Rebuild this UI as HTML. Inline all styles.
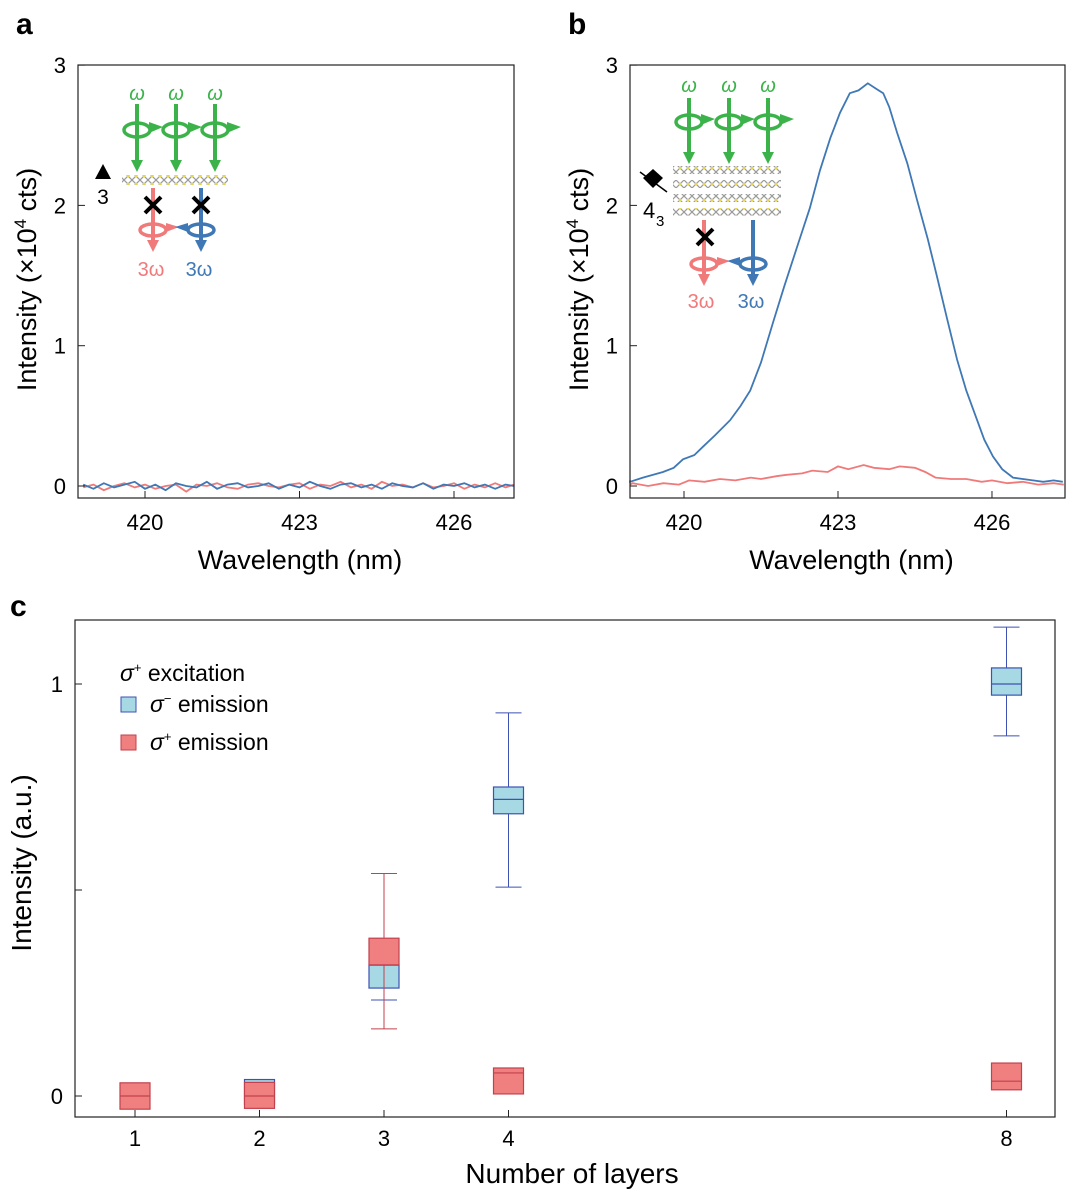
<!DOCTYPE html>
<html><head><meta charset="utf-8"><style>
body{margin:0;background:#fff}
svg{display:block;font-family:"Liberation Sans",sans-serif}
</style></head><body>
<svg id="fig" width="1069" height="1190" viewBox="0 0 1069 1190">
<defs>
<pattern id="lat" width="8" height="8" patternUnits="userSpaceOnUse"><rect width="8" height="8" fill="#fff"/><path d="M0,0L8,8M8,0L0,8" stroke="#9a9a9a" stroke-width="1.2"/><circle cx="0" cy="0" r="1.3" fill="#e3d84a"/><circle cx="8" cy="8" r="1.3" fill="#e3d84a"/><circle cx="0" cy="8" r="1.3" fill="#e3d84a"/><circle cx="8" cy="0" r="1.3" fill="#e3d84a"/></pattern>
</defs>
<g id="pa"></g>
<g id="pb"></g>
<g id="pc"></g>
</svg>
<script>
// ---------- Spectra data ----------
const aBlueX=[418.8,419.0,419.2,419.4,419.6,419.8,420.0,420.2,420.4,420.6,420.8,421.0,421.2,421.4,421.6,421.8,422.0,422.2,422.4,422.6,422.8,423.0,423.2,423.4,423.6,423.8,424.0,424.2,424.4,424.6,424.8,425.0,425.2,425.4,425.6,425.8,426.0,426.2,426.4,426.6,426.8,427.0,427.2];
const aBlueY=[0.01,-0.02,0.02,-0.01,0.01,0.03,-0.02,0.01,-0.03,0.02,0.00,-0.01,0.03,-0.02,0.01,0.02,-0.01,0.00,0.02,-0.02,0.01,-0.01,0.03,0.00,-0.02,0.01,0.02,-0.01,0.01,-0.02,0.02,0.00,-0.01,0.02,-0.02,0.01,0.00,0.02,-0.01,0.01,-0.02,0.01,0.00];
const aRedX=[418.8,419.0,419.2,419.4,419.6,419.8,420.0,420.2,420.4,420.6,420.8,421.0,421.2,421.4,421.6,421.8,422.0,422.2,422.4,422.6,422.8,423.0,423.2,423.4,423.6,423.8,424.0,424.2,424.4,424.6,424.8,425.0,425.2,425.4,425.6,425.8,426.0,426.2,426.4,426.6,426.8,427.0,427.2];
const aRedY=[-0.01,0.01,-0.03,0.00,0.02,-0.01,0.01,-0.02,0.00,0.01,-0.04,0.01,0.00,0.02,-0.01,-0.02,0.01,0.02,0.00,-0.01,0.01,0.02,-0.02,0.01,0.00,0.03,-0.01,0.01,-0.02,0.03,0.00,0.01,-0.01,0.02,-0.01,0.00,0.02,-0.02,0.01,-0.01,0.02,-0.01,0.01];
const bBlueX=[418.7,418.95,419.2,419.4,419.59,419.8,419.98,420.2,420.37,420.6,420.9,421.1,421.29,421.5,421.73,421.95,422.2,422.45,422.65,422.85,423.04,423.23,423.4,423.58,423.75,423.88,424.0,424.15,424.35,424.54,424.75,424.93,425.12,425.32,425.5,425.71,425.85,426.02,426.2,426.41,426.6,426.8,427.0,427.2,427.38];
const bBlueY=[0.04,0.03,0.06,0.08,0.10,0.13,0.19,0.22,0.28,0.36,0.47,0.57,0.68,0.88,1.16,1.42,1.70,1.98,2.25,2.48,2.66,2.80,2.82,2.87,2.83,2.80,2.70,2.52,2.30,2.04,1.76,1.49,1.20,0.90,0.68,0.47,0.33,0.21,0.12,0.06,0.05,0.04,0.03,0.04,0.03];
const bRedX=[418.7,419.0,419.3,419.6,419.9,420.1,420.4,420.7,421.0,421.3,421.5,421.8,422.0,422.3,422.5,422.8,423.0,423.2,423.5,423.7,424.0,424.2,424.5,424.7,424.9,425.2,425.5,425.8,426.0,426.3,426.6,426.9,427.2,427.4];
const bRedY=[0.01,0.02,0.00,0.02,0.01,0.04,0.03,0.05,0.04,0.06,0.05,0.07,0.08,0.09,0.11,0.10,0.14,0.12,0.15,0.13,0.12,0.14,0.13,0.10,0.06,0.05,0.05,0.03,0.04,0.02,0.03,0.01,0.02,0.01];
const specXTicks=[420,423,426];
const specYTicks=[0,1,2,3];
// ---------- Box plot data ----------
const layers=[1,2,3,4,8];
const layerTicks=["1","2","3","4","8"];
const blueQ1=[null,-0.02,0.262,0.685,0.973];
const blueMed=[null,0.0,0.318,0.72,1.0];
const blueQ3=[null,0.04,0.318,0.75,1.039];
const blueLo=[null,null,0.233,0.507,0.874];
const blueHi=[null,null,0.54,0.93,1.138];
const redQ1=[-0.032,-0.03,0.318,0.005,0.015];
const redMed=[0.0,0.0,0.318,0.056,0.036];
const redQ3=[0.032,0.033,0.383,0.068,0.08];
const redLo=[null,null,0.163,null,null];
const redHi=[null,null,0.54,null,null];

const NS="http://www.w3.org/2000/svg";
function mk(parent,tag,attrs,text){const e=document.createElementNS(NS,tag);for(const k in attrs)e.setAttribute(k,attrs[k]);if(text!==undefined)e.textContent=text;parent.appendChild(e);return e;}
const BLUE="#3f78b5",RED="#f07a7a",GREEN="#3bb34a";

function spectrum(g,L,R,x0px,ppnm,xs1,ys1,xs2,ys2,letter){
  const T=65,B=498;
  const X=v=>x0px+(v-420)*ppnm, Y=v=>486-v*140.3;
  const lab=mk(g,'text',{x:L-62,y:34,'font-size':30,'font-weight':'bold'},letter);
  
  
  function line(xs,ys,col,name){
    let d='';xs.forEach((x,i)=>{let xx=Math.max(L,Math.min(R,X(x)));d+=(i?'L':'M')+xx.toFixed(1)+','+Y(ys[i]).toFixed(1);});
    const p=mk(g,'path',{d:d,fill:'none',stroke:col,'stroke-width':1.8});
    
    
  }
  line(xs2,ys2,RED,'sigma-plus-spectrum');
  line(xs1,ys1,BLUE,'sigma-minus-spectrum');
  const fr=mk(g,'rect',{x:L,y:T,width:R-L,height:B-T,fill:'none',stroke:'#222','stroke-width':1.2});
  
  
  specXTicks.forEach(t=>{mk(g,'line',{x1:X(t),x2:X(t),y1:B,y2:B-7,stroke:'#222'});
    const tl=mk(g,'text',{x:X(t),y:530,'font-size':22,'text-anchor':'middle'},t);
    
    });
  specYTicks.forEach(t=>{mk(g,'line',{x1:L,x2:L+7,y1:Y(t),y2:Y(t),stroke:'#222'});
    const tl=mk(g,'text',{x:L-12,y:Y(t)+8,'font-size':22,'text-anchor':'end'},t);
    
    });
  const xt=mk(g,'text',{x:(L+R)/2+4,y:569,'font-size':27,'text-anchor':'middle'},'Wavelength (nm)');
  
  
  const yt=mk(g,'text',{transform:`translate(${L-42},${(T+B)/2-2}) rotate(-90)`,'font-size':27,'text-anchor':'middle'});
  yt.innerHTML='Intensity (×10<tspan dy="-10" font-size="17">4</tspan><tspan dy="10"> cts)</tspan>';
  
  
}
const pa=document.getElementById('pa'),pb=document.getElementById('pb'),pc=document.getElementById('pc');
spectrum(pa,78,514,145,51.5,aBlueX,aBlueY,aRedX,aRedY,'a');
spectrum(pb,630,1065,684,51.33,bBlueX,bBlueY,bRedX,bRedY,'b');

// ---------- insets ----------
function greenBeam(g,x,ytop,ybot,ycirc,ylab){
  mk(g,'text',{x:x,y:ylab,'font-size':20,fill:GREEN,'text-anchor':'middle','font-style':'italic'},'ω');
  mk(g,'line',{x1:x,x2:x,y1:ytop,y2:ybot-8,stroke:GREEN,'stroke-width':4});
  mk(g,'path',{d:`M${x-6},${ybot-12}L${x+6},${ybot-12}L${x},${ybot}z`,fill:GREEN});
  mk(g,'ellipse',{cx:x,cy:ycirc,rx:13,ry:7,fill:'none',stroke:GREEN,'stroke-width':3.5});
  mk(g,'path',{d:`M${x+12},${ycirc-8}L${x+26},${ycirc-3}L${x+12},${ycirc+3}z`,fill:GREEN});
}
function outBeam(g,x,y1,y2,col,dir){
  mk(g,'line',{x1:x,x2:x,y1:y1,y2:y2-8,stroke:col,'stroke-width':4});
  mk(g,'path',{d:`M${x-6},${y2-12}L${x+6},${y2-12}L${x},${y2}z`,fill:col});
  const yc=y2-22;
  mk(g,'ellipse',{cx:x,cy:yc,rx:13,ry:6,fill:'none',stroke:col,'stroke-width':3.5});
  if(dir>0) mk(g,'path',{d:`M${x+13},${yc-7}L${x+26},${yc-3}L${x+13},${yc+2}z`,fill:col});
  else mk(g,'path',{d:`M${x-13},${yc-7}L${x-26},${yc-3}L${x-13},${yc+2}z`,fill:col});
}
function cross(g,x,y){mk(g,'path',{d:`M${x-8},${y-8}L${x+8},${y+8}M${x+8},${y-8}L${x-8},${y+8}`,stroke:'#000','stroke-width':4});}
(function(){
  const g=mk(pa,'g',{});
  
  
  [137,176,215].forEach(x=>greenBeam(g,x,104,172,130,100));
  mk(g,'rect',{x:122,y:175,width:106,height:10,fill:'url(#lat)'});
  mk(g,'path',{d:'M95,179L111,179L103,164z',fill:'#000'});
  mk(g,'text',{x:103,y:204,'font-size':21,'text-anchor':'middle'},'3');
  outBeam(g,153,188,252,RED,1);outBeam(g,201,188,252,BLUE,-1);
  cross(g,153,205);cross(g,201,205);
  mk(g,'text',{x:151,y:276,'font-size':20,fill:RED,'text-anchor':'middle'},'3ω');
  mk(g,'text',{x:199,y:276,'font-size':20,fill:BLUE,'text-anchor':'middle'},'3ω');
})();
(function(){
  const g=mk(pb,'g',{});
  
  
  [689,729,768].forEach(x=>greenBeam(g,x,98,164,122,92));
  [166,180,194,208].forEach(y=>mk(g,'rect',{x:673,y:y,width:108,height:8,fill:'url(#lat)'}));
  mk(g,'path',{d:'M653,169L663,178L653,188L643,178z',fill:'#000'});
  mk(g,'line',{x1:640,x2:667,y1:172,y2:192,stroke:'#000','stroke-width':1.5});
  mk(g,'text',{x:643,y:218,'font-size':22},'4');
  mk(g,'text',{x:656,y:226,'font-size':15},'3');
  outBeam(g,704,220,286,RED,1);outBeam(g,753,220,286,BLUE,-1);
  cross(g,705,237);
  mk(g,'text',{x:701,y:308,'font-size':20,fill:RED,'text-anchor':'middle'},'3ω');
  mk(g,'text',{x:751,y:308,'font-size':20,fill:BLUE,'text-anchor':'middle'},'3ω');
})();

// ---------- panel c ----------
(function(){
  const L=75,R=1055,T=620,B=1117;
  const X=n=>135+(n-1)*124.5, Y=v=>1096-v*412;
  const lab=mk(pc,'text',{x:10,y:616,'font-size':30,'font-weight':'bold'},'c');
  
  
  const fr=mk(pc,'rect',{x:L,y:T,width:R-L,height:B-T,fill:'none',stroke:'#222','stroke-width':1.2});
  
  
  layers.forEach((n,i)=>{mk(pc,'line',{x1:X(n),x2:X(n),y1:B,y2:B-7,stroke:'#222'});
    const t=mk(pc,'text',{x:X(n),y:1146,'font-size':22,'text-anchor':'middle'},layerTicks[i]);
    
    });
  [[0,'0'],[0.5,''],[1,'1']].forEach(([v,s])=>{mk(pc,'line',{x1:L,x2:L+7,y1:Y(v),y2:Y(v),stroke:'#222'});
    if(s){const t=mk(pc,'text',{x:L-12,y:Y(v)+8,'font-size':22,'text-anchor':'end'},s);
    
    }});
  const xt=mk(pc,'text',{x:572,y:1183,'font-size':28,'text-anchor':'middle'},'Number of layers');
  
  
  const yt=mk(pc,'text',{transform:'translate(31,863) rotate(-90)','font-size':28,'text-anchor':'middle'},'Intensity (a.u.)');
  
  
  function box(i,q1,md,q3,lo,hi,fill,stroke,name){
    if(q1[i]===null)return;
    const x=X(layers[i]),w=30;
    const g=mk(pc,'g',{});
    
    
    if(hi[i]!==null){mk(g,'line',{x1:x,x2:x,y1:Y(hi[i]),y2:Y(q3[i]),stroke:stroke});mk(g,'line',{x1:x-13,x2:x+13,y1:Y(hi[i]),y2:Y(hi[i]),stroke:stroke});}
    if(lo[i]!==null){mk(g,'line',{x1:x,x2:x,y1:Y(q1[i]),y2:Y(lo[i]),stroke:stroke});mk(g,'line',{x1:x-13,x2:x+13,y1:Y(lo[i]),y2:Y(lo[i]),stroke:stroke});}
    mk(g,'rect',{x:x-w/2,y:Y(q3[i]),width:w,height:Math.max(1,Y(q1[i])-Y(q3[i])),fill:fill,stroke:stroke,'stroke-width':1.2});
    mk(g,'line',{x1:x-w/2,x2:x+w/2,y1:Y(md[i]),y2:Y(md[i]),stroke:stroke,'stroke-width':1.2});
  }
  layers.forEach((n,i)=>box(i,blueQ1,blueMed,blueQ3,blueLo,blueHi,'#a6d9e4','#3d52b4','sigma-minus-box'));
  layers.forEach((n,i)=>box(i,redQ1,redMed,redQ3,redLo,redHi,'#f08080','#c2414e','sigma-plus-box'));
  const lg=mk(pc,'g',{});
  
  
  const t1=mk(lg,'text',{x:120,y:681,'font-size':23});t1.innerHTML='<tspan font-style="italic">σ</tspan><tspan dy="-9" font-size="13">+</tspan><tspan dy="9"> excitation</tspan>';
  mk(lg,'rect',{x:121,y:697,width:15,height:15,fill:'#a6d9e4',stroke:'#3d52b4'});
  const t2=mk(lg,'text',{x:150,y:712,'font-size':23});t2.innerHTML='<tspan font-style="italic">σ</tspan><tspan dy="-9" font-size="13">−</tspan><tspan dy="9"> emission</tspan>';
  mk(lg,'rect',{x:121,y:735,width:15,height:15,fill:'#f08080',stroke:'#c2414e'});
  const t3=mk(lg,'text',{x:150,y:750,'font-size':23});t3.innerHTML='<tspan font-style="italic">σ</tspan><tspan dy="-9" font-size="13">+</tspan><tspan dy="9"> emission</tspan>';
})();
</script>
</body></html>
